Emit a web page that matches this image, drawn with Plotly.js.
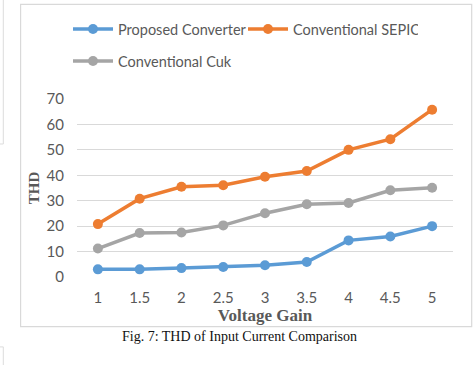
<!DOCTYPE html>
<html>
<head>
<meta charset="utf-8">
<script src="https://cdn.plot.ly/plotly-3.0.1.min.js"></script>
<style>html,body{margin:0;padding:0;background:#fff;}#chart{width:474px;height:366px;}</style>
</head>
<body>
<div id="chart"></div>
<script>
var voltageGain = ['1', '1.5', '2', '2.5', '3', '3.5', '4', '4.5', '5'];
var proposedConverter = [3.0, 3.0, 3.5, 3.9, 4.6, 5.9, 14.4, 15.9, 20.0];
var conventionalSEPIC = [20.8, 30.8, 35.5, 36.1, 39.4, 41.7, 50.0, 54.2, 65.8];
var conventionalCuk = [11.2, 17.3, 17.5, 20.3, 25.1, 28.6, 29.1, 34.1, 35.1];
var yTicks = [0, 10, 20, 30, 40, 50, 60, 70];

var tickFont = {family: 'Lato, "Open Sans", sans-serif', size: 15, color: '#595959'};

function series(name, y, color, legendId) {
  return {
    type: 'scatter', mode: 'lines+markers', name: name,
    x: voltageGain, y: y,
    line: {color: color, width: 3.5},
    marker: {color: color, size: 10},
    legend: legendId
  };
}

var data = [
  series('Proposed Converter', proposedConverter, '#5B9BD5', 'legend'),
  series('Conventional SEPIC', conventionalSEPIC, '#ED7D31', 'legend'),
  series('Conventional Cuk', conventionalCuk, '#A5A5A5', 'legend2')
];

var legendCommon = {
  orientation: 'h', xref: 'container', yref: 'container',
  xanchor: 'left', yanchor: 'middle',
  font: {family: 'Lato, "Open Sans", sans-serif', size: 14.5, color: '#595959'},
  bgcolor: 'rgba(0,0,0,0)', itemwidth: 40, itemclick: false, itemdoubleclick: false,
  entrywidthmode: 'pixels', entrywidth: 120
};

var layout = {
  width: 474, height: 366,
  margin: {l: 77, r: 21, t: 99, b: 89},
  paper_bgcolor: '#ffffff', plot_bgcolor: '#ffffff',
  showlegend: true,
  legend: Object.assign({}, legendCommon, {x: 68 / 474, y: 1 - 29 / 366}),
  legend2: Object.assign({}, legendCommon, {x: 68 / 474, y: 1 - 61 / 366}),
  xaxis: {
    type: 'category', range: [-0.5, 8.5],
    showgrid: false, zeroline: false, showline: false, ticks: '',
    tickfont: tickFont, ticklabelstandoff: 10,
    title: {text: 'Voltage Gain', font: {family: '"Liberation Serif", "Times New Roman", serif', size: 17, color: '#595959', weight: 'bold'}, standoff: 2}
  },
  yaxis: {
    range: [0, 70], tickvals: yTicks, ticktext: yTicks.map(String),
    showgrid: true, gridcolor: '#d9d9d9', gridwidth: 1,
    zeroline: false, showline: false, ticks: '',
    tickfont: tickFont, ticklabelstandoff: 12,
    title: {text: 'THD', font: {family: '"Liberation Serif", "Times New Roman", serif', size: 15, color: '#595959', weight: 'bold'}, standoff: 3}
  },
  shapes: [
    {type: 'rect', xref: 'paper', yref: 'paper', x0: -0.150, x1: 1.0497, y0: -0.279, y1: 1.532,
     line: {color: '#d9d9d9', width: 1.2}, fillcolor: 'rgba(0,0,0,0)', layer: 'below'},
    {type: 'path', xref: 'paper', yref: 'paper',
     path: 'M -0.1960 1.5562 L -0.1960 0.7472 L -0.2048 0.7472',
     line: {color: '#dcdcdc', width: 1}},
    {type: 'path', xref: 'paper', yref: 'paper',
     path: 'M -0.2048 -0.3927 L -0.1960 -0.3927 L -0.1960 -0.4944',
     line: {color: '#dcdcdc', width: 1}}
  ],
  annotations: [
    {text: 'Fig. 7: THD of Input Current Comparison', xref: 'paper', yref: 'paper',
     x: (239 - 77) / 376, y: (277 - 336) / 178, xanchor: 'center', yanchor: 'middle',
     showarrow: false, font: {family: '"Liberation Serif", "Times New Roman", serif', size: 14, color: '#111111'}}
  ]
};

Plotly.newPlot('chart', data, layout, {displayModeBar: false, staticPlot: true});
</script>
</body>
</html>
